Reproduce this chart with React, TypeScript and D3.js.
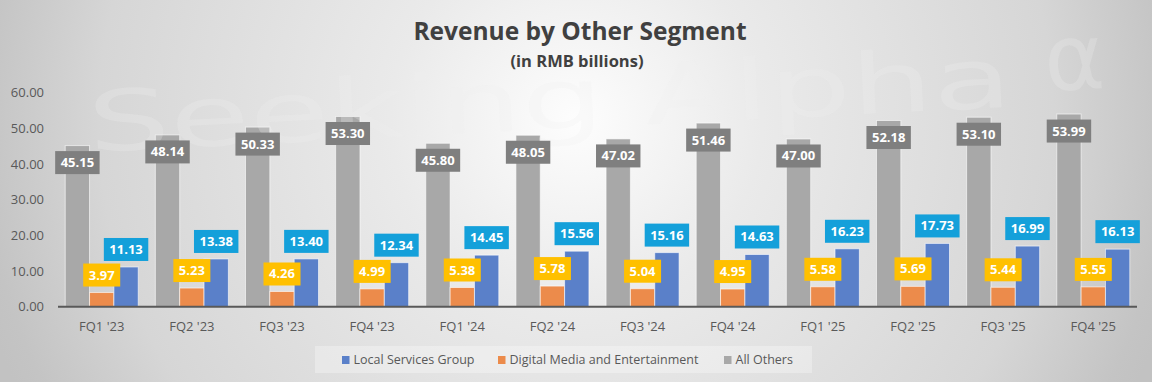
import React, { useMemo } from "react";
import * as d3 from "d3";

const categories = ["FQ1 '23", "FQ2 '23", "FQ3 '23", "FQ4 '23", "FQ1 '24", "FQ2 '24", "FQ3 '24", "FQ4 '24", "FQ1 '25", "FQ2 '25", "FQ3 '25", "FQ4 '25"];
const localServices = [11.13, 13.38, 13.4, 12.34, 14.45, 15.56, 15.16, 14.63, 16.23, 17.73, 16.99, 16.13];
const digitalMedia = [3.97, 5.23, 4.26, 4.99, 5.38, 5.78, 5.04, 4.95, 5.58, 5.69, 5.44, 5.55];
const allOthers = [45.15, 48.14, 50.33, 53.3, 45.8, 48.05, 47.02, 51.46, 47.0, 52.18, 53.1, 53.99];
const yTicks = [0, 10, 20, 30, 40, 50, 60];

const W = 1152;
const H = 382;
const FONT = "'Open Sans', 'DejaVu Sans', sans-serif";

type SeriesKey = "all" | "digital" | "local";
const seriesOrder: SeriesKey[] = ["all", "digital", "local"];
const seriesValues: Record<SeriesKey, number[]> = { all: allOthers, digital: digitalMedia, local: localServices };
const barColor: Record<SeriesKey, string> = { all: "#a8a8a8", digital: "#ec8b4b", local: "#5a80c9" };
const labelColor: Record<SeriesKey, string> = { all: "#7f7f7f", digital: "#ffc000", local: "#14a0da" };

const legendItems: { key: SeriesKey; name: string; x: number }[] = [
  { key: "local", name: "Local Services Group", x: 342 },
  { key: "digital", name: "Digital Media and Entertainment", x: 498 },
  { key: "all", name: "All Others", x: 724 },
];

function useMeasurer() {
  return useMemo(() => {
    const c = document.createElement("canvas");
    const ctx = c.getContext("2d")!;
    return (text: string, font: string) => {
      ctx.font = font;
      return ctx.measureText(text).width;
    };
  }, []);
}

export default function App() {
  const measure = useMeasurer();
  const x = d3.scaleBand<string>().domain(categories).range([58, 1137]).paddingInner(0.19).paddingOuter(0.08);
  const xs = d3.scaleBand<SeriesKey>().domain(seriesOrder).range([0, x.bandwidth()]);
  const y = d3.scaleLinear().domain([0, 60]).range([306.7, 92.6]);

  const labelFont = `bold 13px ${FONT}`;

  return (
    <svg width={W} height={H} style={{ display: "block", position: "absolute", left: 0, top: 0 }} fontFamily={FONT}>
      <defs>
        <radialGradient id="bg" gradientUnits="userSpaceOnUse" cx={576} cy={120} r={620}>
          <stop offset="0" stopColor="#fdfdfd" />
          <stop offset="0.3" stopColor="#eaeaea" />
          <stop offset="0.77" stopColor="#d6d6d6" />
          <stop offset="0.96" stopColor="#c4c4c4" />
          <stop offset="1" stopColor="#c2c2c2" />
        </radialGradient>
      </defs>
      <rect x={0} y={0} width={W} height={H} fill="url(#bg)" />

      {/* y axis labels */}
      {yTicks.map((t) => (
        <text key={t} x={44} y={y(t)} dy="0.35em" textAnchor="end" fontSize={13} fill="#595959">
          {t.toFixed(2)}
        </text>
      ))}

      {/* bars */}
      {categories.map((c, i) => (
        <g key={c} transform={`translate(${x(c)},0)`}>
          {seriesOrder.map((s) => {
            const v = seriesValues[s][i];
            return (
              <rect
                key={s}
                x={xs(s)!}
                y={y(v)}
                width={xs.bandwidth()}
                height={y(0) - y(v)}
                fill={barColor[s]}
                stroke="#ffffff"
                strokeOpacity={0.6}
                strokeWidth={1}
              />
            );
          })}
        </g>
      ))}

      {/* watermark */}
      <g transform="rotate(-2.8 576 112)" fill="#eeeeee" fillOpacity={0.26} fontFamily="'DejaVu Sans', sans-serif">
        <text x={88} y={128} fontSize={84} textLength={925} lengthAdjust="spacingAndGlyphs">
          Seeking Alpha
        </text>
        <text x={1046} y={114} fontSize={92}>
          α
        </text>
      </g>

      {/* axis line */}
      <line x1={58} x2={1137} y1={y(0)} y2={y(0)} stroke="#595959" strokeWidth={2} />

      {/* labels */}
      {categories.map((c, i) => (
        <g key={c} transform={`translate(${x(c)},0)`}>
          {seriesOrder.map((s) => {
            const v = seriesValues[s][i];
            const txt = v.toFixed(2);
            const tw = measure(txt, labelFont);
            const bw = tw + 11;
            const bh = 23;
            const cx = xs(s)! + xs.bandwidth() / 2;
            const top = s === "all" ? y(v) + 5.5 : y(v) - 6 - bh;
            return (
              <g key={s}>
                <rect x={cx - bw / 2} y={top} width={bw} height={bh} fill={labelColor[s]} />
                <text x={cx} y={top + 16} textAnchor="middle" fontSize={13} fontWeight="bold" fill="#ffffff">
                  {txt}
                </text>
              </g>
            );
          })}
        </g>
      ))}

      {/* x labels */}
      {categories.map((c) => (
        <text key={c} x={x(c)! + x.bandwidth() / 2} y={331} textAnchor="middle" fontSize={13} fill="#595959">
          {c}
        </text>
      ))}

      {/* title */}
      <text x={580} y={40} textAnchor="middle" fontSize={24.5} fontWeight="bold" fill="#404040">
        Revenue by Other Segment
      </text>
      <text x={577} y={67} textAnchor="middle" fontSize={16.5} fontWeight="bold" fill="#404040">
        (in RMB billions)
      </text>

      {/* legend */}
      <rect x={315} y={346} width={497} height={27} fill="#ffffff" fillOpacity={0.3} />
      {legendItems.map((it) => (
        <g key={it.key}>
          <rect x={it.x} y={356} width={7.5} height={8} fill={barColor[it.key]} />
          <text x={it.x + 11.5} y={364} fontSize={12.5} fill="#595959">
            {it.name}
          </text>
        </g>
      ))}
    </svg>
  );
}
